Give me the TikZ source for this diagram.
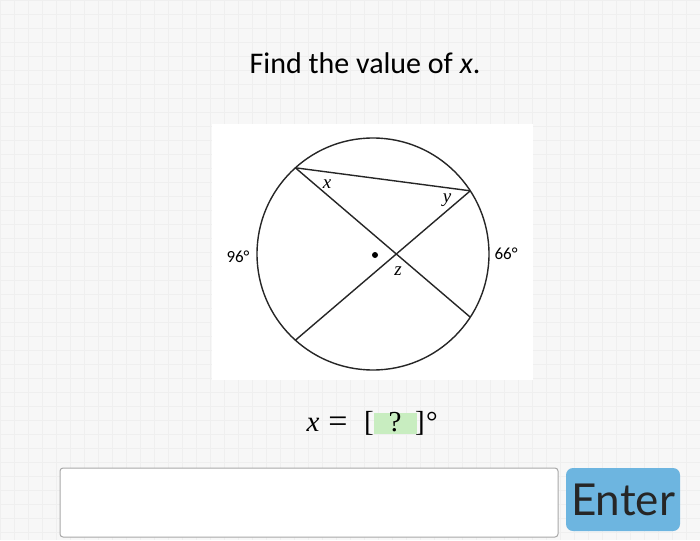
\documentclass[tikz,border=0pt]{standalone}
\usepackage{fontspec}
\usetikzlibrary{calc}
\setmainfont{Liberation Serif}
\newfontfamily\uifont{Carlito}
\newfontfamily\btnfont{Lato}
\definecolor{bgcol}{HTML}{F7F7F7}
\definecolor{gridcol}{HTML}{EFEFEF}
\definecolor{btncol}{HTML}{6DB5E0}
\definecolor{qcol}{HTML}{C8EDC0}
\definecolor{boxline}{HTML}{A8A8A8}
\tikzset{
  chord/.style={line width=1.4pt, black!85},
  lbl/.style={inner sep=0pt, font=\fontsize{19}{19}\selectfont\itshape},
  arclbl/.style={inner sep=0pt, font=\uifont\fontsize{17}{17}\selectfont},
  eqpart/.style={inner sep=0pt, anchor=base, font=\fontsize{29}{29}\selectfont},
}
\begin{document}
\begin{tikzpicture}[x=1pt,y=-1pt]
\useasboundingbox (0,0) rectangle (700,540);
\fill[bgcol] (0,0) rectangle (700,540);
\draw[gridcol, line width=0.4pt, step=14pt] (0,0) grid (700,540);
% title
\node[inner sep=0pt, font=\uifont\fontsize{30}{30}\selectfont] (title) at (365,63) {Find the value of \textit{x}.};
% white panel
\fill[white] (212,124) rectangle (533,380);
% circle
\coordinate (O) at (373,254);
\draw[chord] (O) circle (116);
\coordinate (A) at ($(O)+(228:116)$);
\coordinate (C) at ($(O)+(132:116)$);
\coordinate (B) at ($(O)+(-33:116)$);
\coordinate (D) at ($(O)+(33:116)$);
\draw[chord] (A) -- (D);
\draw[chord] (C) -- (B);
\draw[chord] (A) -- (B);
\fill[black] (375,255) circle (3);
\node[lbl] (lx) at (327,184) {x};
\node[lbl] (ly) at (447,200) {y};
\node[lbl] (lz) at (398,271) {z};
\node[arclbl] (a96) at (238,257) {96°};
\node[arclbl] (a66) at (506,254) {66°};
% equation
\fill[qcol] (374,413) rectangle (417,434);
\node[eqpart] (ex) at (313,431) {\textit{x}};
\node[eqpart, font=\fontsize{34}{34}\selectfont] (eeq) at (338,432) {=};
\node[eqpart] (elb) at (369,431) {[};
\node[eqpart] (eq) at (395,431) {?};
\node[eqpart] (erb) at (420,431) {]};
\node[eqpart] (edeg) at (432,431) {°};
% input box and button
\draw[boxline, line width=1pt, fill=white, rounded corners=3pt] (60,468) rectangle (558,537);
\fill[btncol, rounded corners=7pt] (566,468) rectangle (680,531);
\node[inner sep=0pt, font=\btnfont\fontsize{44}{44}\selectfont, text=black!85] (enter) at (623,500) {Enter};
\end{tikzpicture}
\end{document}
